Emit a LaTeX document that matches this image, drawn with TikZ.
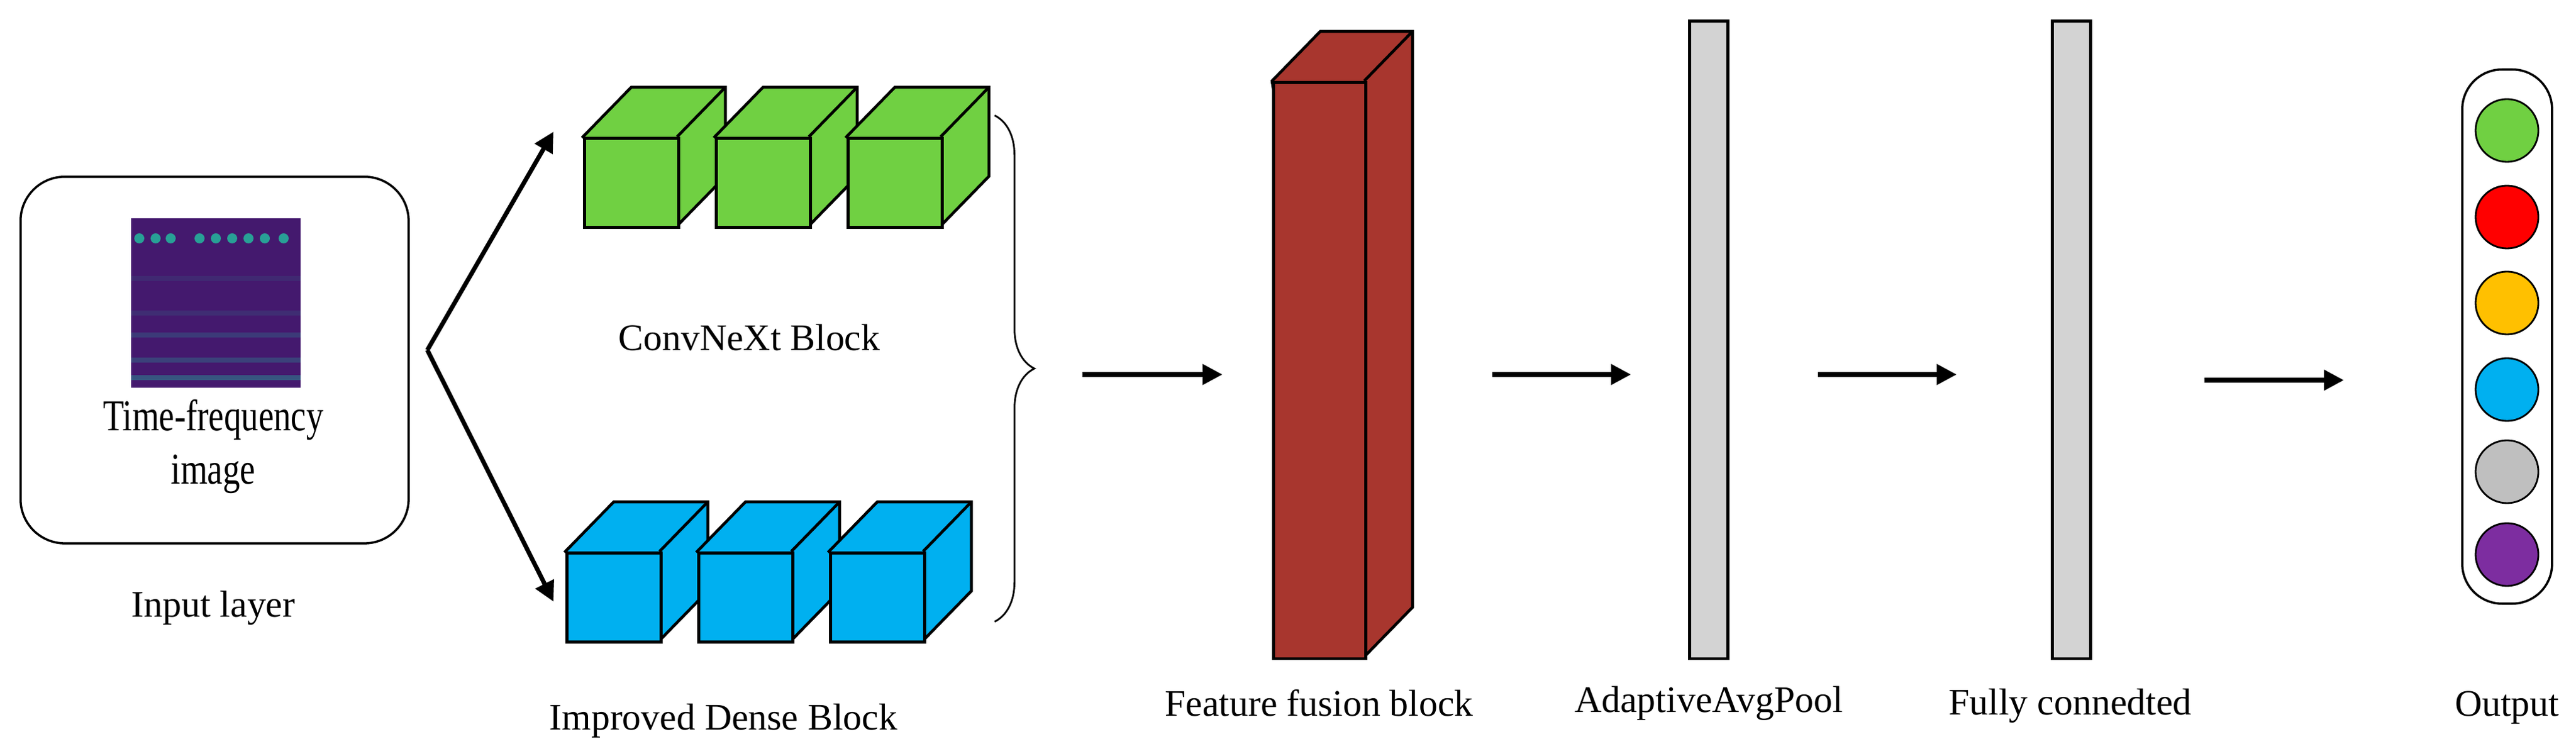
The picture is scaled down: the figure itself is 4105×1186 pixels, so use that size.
\documentclass[tikz,border=0pt]{standalone}
\usepackage{fontspec}
\setmainfont{Liberation Serif}
\newfontfamily\narrowserif{Liberation Serif}[FakeStretch=0.78]
\usetikzlibrary{positioning,arrows.meta,decorations.pathreplacing}

\definecolor{convgreen}{RGB}{112,208,66}
\definecolor{denseblue}{RGB}{0,176,240}
\definecolor{fusionred}{RGB}{168,54,46}
\definecolor{barcgray}{RGB}{211,211,211}
\definecolor{specpurple}{RGB}{68,25,110}
\definecolor{specteal}{RGB}{40,160,150}

% a cube: front face is a node, top and side drawn behind
\newcommand{\blockcube}[4]{%
  \fill[#4,draw=black,line width=1.3pt,line join=miter]
    (#2,#3) -- ++(77,-79) -- ++(150,0) -- ++(0,142) -- ++(-77,79) -- cycle;
  \draw[line width=1.3pt] (#2+150,#3) -- ++(77,-79);
  \node[cube face,fill=#4,anchor=north west] (#1) at (#2,#3) {};
}

\begin{document}
\begin{tikzpicture}[x=0.01cm,y=-0.01cm,
  every node/.style={font=\fontsize{17}{21}\selectfont},
  cube face/.style={draw,line width=1.3pt,minimum width=1.5cm,
    minimum height=1.42cm,inner sep=0pt},
  flow/.style={line width=2pt,-{Triangle[length=9pt,width=9pt]}},
  bar/.style={draw,line width=1.3pt,fill=barcgray,inner sep=0pt,
    minimum width=0.61cm,minimum height=10.16cm,anchor=north west},
  class dot/.style={circle,draw,line width=0.8pt,minimum size=1cm,inner sep=0pt}]
  \useasboundingbox (0,0) rectangle (4105,1186);

  % input
  \node[draw,line width=1pt,rounded corners=20pt,minimum width=6.18cm,
    minimum height=5.84cm,anchor=north west] (input) at (31,280) {};
  \fill[specpurple] (209,348) rectangle (479,618);
  \foreach \ys/\op in {440/0.12,495/0.15,530/0.25,570/0.3,598/0.45}
    \fill[specteal,opacity=\op] (209,\ys) rectangle (479,\ys+8);
  \foreach \xs in {222,248,272,318,344,370,396,422,452}
    \fill[specteal] (\xs,380) circle (8);
  \node[align=center,font=\fontsize{20}{24}\narrowserif] (tfimg) at (340,712) {Time-frequency\\image};
  \node (inlab) at (340,969) {Input layer};

  % two branches
  \coordinate (fork) at (681,558);
  \foreach \i/\xx in {1/929,2/1139,3/1349}
    \blockcube{g\i}{\xx}{218}{convgreen};
  \foreach \i/\xx in {1/901,2/1111,3/1321}
    \blockcube{b\i}{\xx}{879}{denseblue};
  \node (convlab) at (1194,538) {ConvNeXt Block};
  \node (denselab) at (1153,1149) {Improved Dense Block};
  \draw[flow] (fork) -- (882,210);
  \draw[flow] (fork) -- (882,959);

  % merge
  \draw[line width=0.8pt,decorate,decoration={brace,amplitude=18pt}]
    (1585,184) -- (1585,991);

  % fusion block
  \fill[fusionred,draw=black,line width=1.3pt,line join=miter]
    (2027,129) -- ++(77,-79) -- ++(147,0) -- ++(0,918) -- ++(-77,79) -- cycle;
  \draw[line width=1.3pt] (2174,129) -- ++(77,-79);
  \node[draw,line width=1.3pt,fill=fusionred,inner sep=0pt,minimum width=1.47cm,
    minimum height=9.18cm,anchor=north west] (fusion) at (2027,129) {};
  \node (fuslab) at (2102,1121) {Feature fusion block};

  % pooling and fc
  \node[bar] (pool) at (2690,31) {};
  \node (poollab) at (2723,1121) {AdaptiveAvgPool};
  \node[bar] (fc) at (3268,31) {};
  \node (fclab) at (3299,1125) {Fully connedted};

  % output
  \node[draw,line width=1pt,rounded corners=18pt,minimum width=1.43cm,
    minimum height=8.51cm,anchor=north west] (out) at (3922,109) {};
  \foreach \c/\yy in {convgreen/208,red/346,{rgb,255:red,255;green,192;blue,0}/483,
      denseblue/621,{rgb,255:red,191;green,191;blue,191}/752,
      {rgb,255:red,125;green,45;blue,160}/884}
    \node[class dot,fill=\c] at (3995,\yy) {};
  \node (outlab) at (3995,1128) {Output};

  % arrows between stages
  \draw[flow] (1725,597) -- (1948,597);
  \draw[flow] (2378,597) -- (2599,597);
  \draw[flow] (2897,597) -- (3118,597);
  \draw[flow] (3513,606) -- (3735,606);
\end{tikzpicture}
\end{document}
